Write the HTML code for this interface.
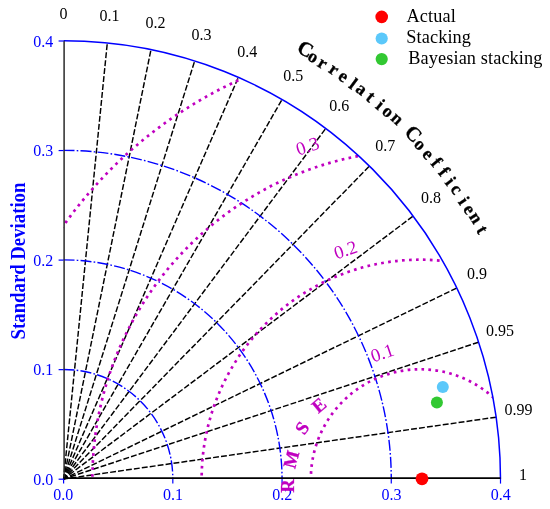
<!DOCTYPE html>
<html><head><meta charset="utf-8"><title>Taylor diagram</title>
<style>
html,body{margin:0;padding:0;background:#fff;}
body{width:550px;height:509px;overflow:hidden;}
svg{display:block;font-family:"Liberation Serif","DejaVu Serif",serif;}
.k{fill:#000;font-size:16px;}
.b{fill:#0000ff;font-size:16px;}
.m{fill:#c000c0;font-size:18.67px;}
.mb{fill:#c000c0;font-size:18.67px;font-weight:bold;stroke:#c000c0;stroke-width:0.25px;}
.cc{fill:#000;font-weight:bold;stroke:#000;stroke-width:0.3px;}
.lg{fill:#000;font-size:18.3px;letter-spacing:0.1px;}
.sd{fill:#0000ff;font-size:18.67px;font-weight:bold;}
</style></head><body>
<svg width="550" height="509" viewBox="0 0 550 509">
<rect width="550" height="509" fill="#fff"/>
<defs><clipPath id="q"><path d="M63.60 479.00 L63.60 40.80 A436.90 438.20 0 0 1 500.50 479.00 Z"/></clipPath></defs>

<g stroke="#000" stroke-width="1.45" stroke-dasharray="5.9 2.1" stroke-dashoffset="1" fill="none">
<line x1="63.60" y1="479.00" x2="107.29" y2="43.00"/>
<line x1="63.60" y1="479.00" x2="150.98" y2="49.65"/>
<line x1="63.60" y1="479.00" x2="194.67" y2="60.98"/>
<line x1="63.60" y1="479.00" x2="238.36" y2="77.38"/>
<line x1="63.60" y1="479.00" x2="282.05" y2="99.51"/>
<line x1="63.60" y1="479.00" x2="325.74" y2="128.44"/>
<line x1="63.60" y1="479.00" x2="369.43" y2="166.06"/>
<line x1="63.60" y1="479.00" x2="413.12" y2="216.08"/>
<line x1="63.60" y1="479.00" x2="456.81" y2="287.99"/>
<line x1="63.60" y1="479.00" x2="478.65" y2="342.17"/>
<line x1="63.60" y1="479.00" x2="496.13" y2="417.18"/>
</g>
<g stroke="#0000ff" stroke-width="1.4" stroke-dasharray="11 2.2 1.6 2.2" fill="none">
<path d="M63.60 369.45 A109.22 109.55 0 0 1 172.82 479.00"/>
<path d="M63.60 259.90 A218.45 219.10 0 0 1 282.05 479.00"/>
<path d="M63.60 150.35 A327.67 328.65 0 0 1 391.27 479.00"/>
</g>
<g clip-path="url(#q)"><g stroke="#c000c0" stroke-width="2.7" stroke-dasharray="2.7 4.3" fill="none">
<path d="M310.88 478.80 A109.22 109.55 0 0 1 529.33 478.80" stroke-dashoffset="1.95"/>
<path d="M201.65 478.80 A218.45 219.10 0 0 1 638.55 478.80" stroke-dashoffset="-3.35"/>
<path d="M92.43 478.80 A327.67 328.65 0 0 1 747.77 478.80" stroke-dashoffset="-2.05"/>
<path d="M-16.80 478.80 A436.90 438.20 0 0 1 857.00 478.80" stroke-dashoffset="0.00"/>
</g></g>
<path d="M63.60 40.80 A436.90 438.20 0 0 1 500.50 479.00" stroke="#0000ff" stroke-width="1.5" fill="none"/>
<line x1="64.10" y1="40.80" x2="64.10" y2="478.95" stroke="#2a2a2a" stroke-width="1.5"/>
<line x1="63.35" y1="478.20" x2="500.50" y2="478.20" stroke="#000" stroke-width="1.7"/>
<g stroke="#0000ff" stroke-width="1.2">
<line x1="58.6" y1="479.20" x2="63.6" y2="479.20"/>
<line x1="63.60" y1="479" x2="63.60" y2="483.6"/>
<line x1="58.6" y1="369.65" x2="63.6" y2="369.65"/>
<line x1="172.82" y1="479" x2="172.82" y2="483.6"/>
<line x1="58.6" y1="260.10" x2="63.6" y2="260.10"/>
<line x1="282.05" y1="479" x2="282.05" y2="483.6"/>
<line x1="58.6" y1="150.55" x2="63.6" y2="150.55"/>
<line x1="391.27" y1="479" x2="391.27" y2="483.6"/>
<line x1="58.6" y1="41.00" x2="63.6" y2="41.00"/>
<line x1="500.50" y1="479" x2="500.50" y2="483.6"/>
</g>
<text class="b" x="53.2" y="485.00" text-anchor="end">0.0</text>
<text class="b" x="63.30" y="500.3" text-anchor="middle">0.0</text>
<text class="b" x="53.2" y="375.45" text-anchor="end">0.1</text>
<text class="b" x="173.12" y="500.3" text-anchor="middle">0.1</text>
<text class="b" x="53.2" y="265.90" text-anchor="end">0.2</text>
<text class="b" x="282.35" y="500.3" text-anchor="middle">0.2</text>
<text class="b" x="53.2" y="156.35" text-anchor="end">0.3</text>
<text class="b" x="391.57" y="500.3" text-anchor="middle">0.3</text>
<text class="b" x="53.2" y="46.80" text-anchor="end">0.4</text>
<text class="b" x="500.80" y="500.3" text-anchor="middle">0.4</text>
<text class="k" x="63.60" y="19.00" text-anchor="middle">0</text>
<text class="k" x="109.54" y="21.31" text-anchor="middle">0.1</text>
<text class="k" x="155.48" y="28.30" text-anchor="middle">0.2</text>
<text class="k" x="201.42" y="40.21" text-anchor="middle">0.3</text>
<text class="k" x="247.36" y="57.44" text-anchor="middle">0.4</text>
<text class="k" x="293.30" y="80.70" text-anchor="middle">0.5</text>
<text class="k" x="339.24" y="111.10" text-anchor="middle">0.6</text>
<text class="k" x="385.18" y="150.64" text-anchor="middle">0.7</text>
<text class="k" x="431.12" y="203.20" text-anchor="middle">0.8</text>
<text class="k" x="477.06" y="278.77" text-anchor="middle">0.9</text>
<text class="k" x="500.03" y="335.71" text-anchor="middle">0.95</text>
<text class="k" x="518.41" y="414.54" text-anchor="middle">0.99</text>
<text class="k" x="523.00" y="479.50" text-anchor="middle">1</text>
<text class="cc" text-anchor="middle" font-size="20.5" transform="translate(302.17 55.00) rotate(29.46)">C</text>
<text class="cc" text-anchor="middle" font-size="18" transform="translate(310.33 61.42) rotate(30.58)">o</text>
<text class="cc" text-anchor="middle" font-size="18" transform="translate(319.60 67.75) rotate(31.88)">r</text>
<text class="cc" text-anchor="middle" font-size="18" transform="translate(330.85 74.00) rotate(33.41)">r</text>
<text class="cc" text-anchor="middle" font-size="18" transform="translate(340.20 80.85) rotate(34.83)">e</text>
<text class="cc" text-anchor="middle" font-size="18" transform="translate(349.75 88.50) rotate(36.19)">l</text>
<text class="cc" text-anchor="middle" font-size="18" transform="translate(358.02 93.47) rotate(37.39)">a</text>
<text class="cc" text-anchor="middle" font-size="18" transform="translate(367.08 101.20) rotate(38.84)">t</text>
<text class="cc" text-anchor="middle" font-size="18" transform="translate(376.30 109.05) rotate(40.20)">i</text>
<text class="cc" text-anchor="middle" font-size="18" transform="translate(384.40 115.78) rotate(41.45)">o</text>
<text class="cc" text-anchor="middle" font-size="18" transform="translate(393.30 122.68) rotate(42.74)">n</text>
<text class="cc" text-anchor="middle" font-size="20.5" transform="translate(408.75 138.65) rotate(45.52)">C</text>
<text class="cc" text-anchor="middle" font-size="18" transform="translate(416.15 148.32) rotate(46.83)">o</text>
<text class="cc" text-anchor="middle" font-size="18" transform="translate(424.00 157.62) rotate(48.32)">e</text>
<text class="cc" text-anchor="middle" font-size="18" transform="translate(432.05 166.07) rotate(49.74)">f</text>
<text class="cc" text-anchor="middle" font-size="18" transform="translate(439.27 175.22) rotate(51.13)">f</text>
<text class="cc" text-anchor="middle" font-size="18" transform="translate(445.75 184.78) rotate(52.44)">i</text>
<text class="cc" text-anchor="middle" font-size="18" transform="translate(452.07 192.38) rotate(53.67)">c</text>
<text class="cc" text-anchor="middle" font-size="18" transform="translate(458.95 204.00) rotate(55.21)">i</text>
<text class="cc" text-anchor="middle" font-size="18" transform="translate(464.73 212.35) rotate(56.45)">e</text>
<text class="cc" text-anchor="middle" font-size="18" transform="translate(471.12 220.78) rotate(57.63)">n</text>
<text class="cc" text-anchor="middle" font-size="18" transform="translate(477.17 232.50) rotate(59.27)">t</text>
<text class="m" text-anchor="middle" transform="translate(382.20 352.80) rotate(-19)"><tspan y="6.2">0.1</tspan></text>
<text class="m" text-anchor="middle" transform="translate(345.50 249.80) rotate(-19)"><tspan y="6.2">0.2</tspan></text>
<text class="m" text-anchor="middle" transform="translate(307.50 146.10) rotate(-19)"><tspan y="6.2">0.3</tspan></text>
<text class="mb" text-anchor="middle" transform="translate(287.60 486.00) rotate(-90.0)"><tspan y="6.2">R</tspan></text>
<text class="mb" text-anchor="middle" transform="translate(291.30 459.50) rotate(-75.0)"><tspan y="6.2">M</tspan></text>
<text class="mb" text-anchor="middle" transform="translate(302.10 427.90) rotate(-55.0)"><tspan y="6.2">S</tspan></text>
<text class="mb" text-anchor="middle" transform="translate(319.00 405.30) rotate(-40.0)"><tspan y="6.2">E</tspan></text>
<circle cx="422" cy="478.8" r="6.4" fill="#ff0000"/>
<circle cx="442.8" cy="387.1" r="6" fill="#5bc8fa"/>
<circle cx="436.9" cy="402.5" r="6" fill="#32c832"/>
<circle cx="381.7" cy="16.9" r="6.3" fill="#ff0000"/>
<circle cx="381.7" cy="38.5" r="6.1" fill="#5bc8fa"/>
<circle cx="381.7" cy="59.1" r="6.1" fill="#32c832"/>
<text class="lg" x="406.5" y="21.8">Actual</text>
<text class="lg" x="406.3" y="43.1">Stacking</text>
<text class="lg" x="408.3" y="64">Bayesian stacking</text>
<text class="sd" text-anchor="middle" transform="translate(25.2 261) rotate(-90) scale(1.005 1.1)">Standard Deviation</text>
</svg></body></html>
